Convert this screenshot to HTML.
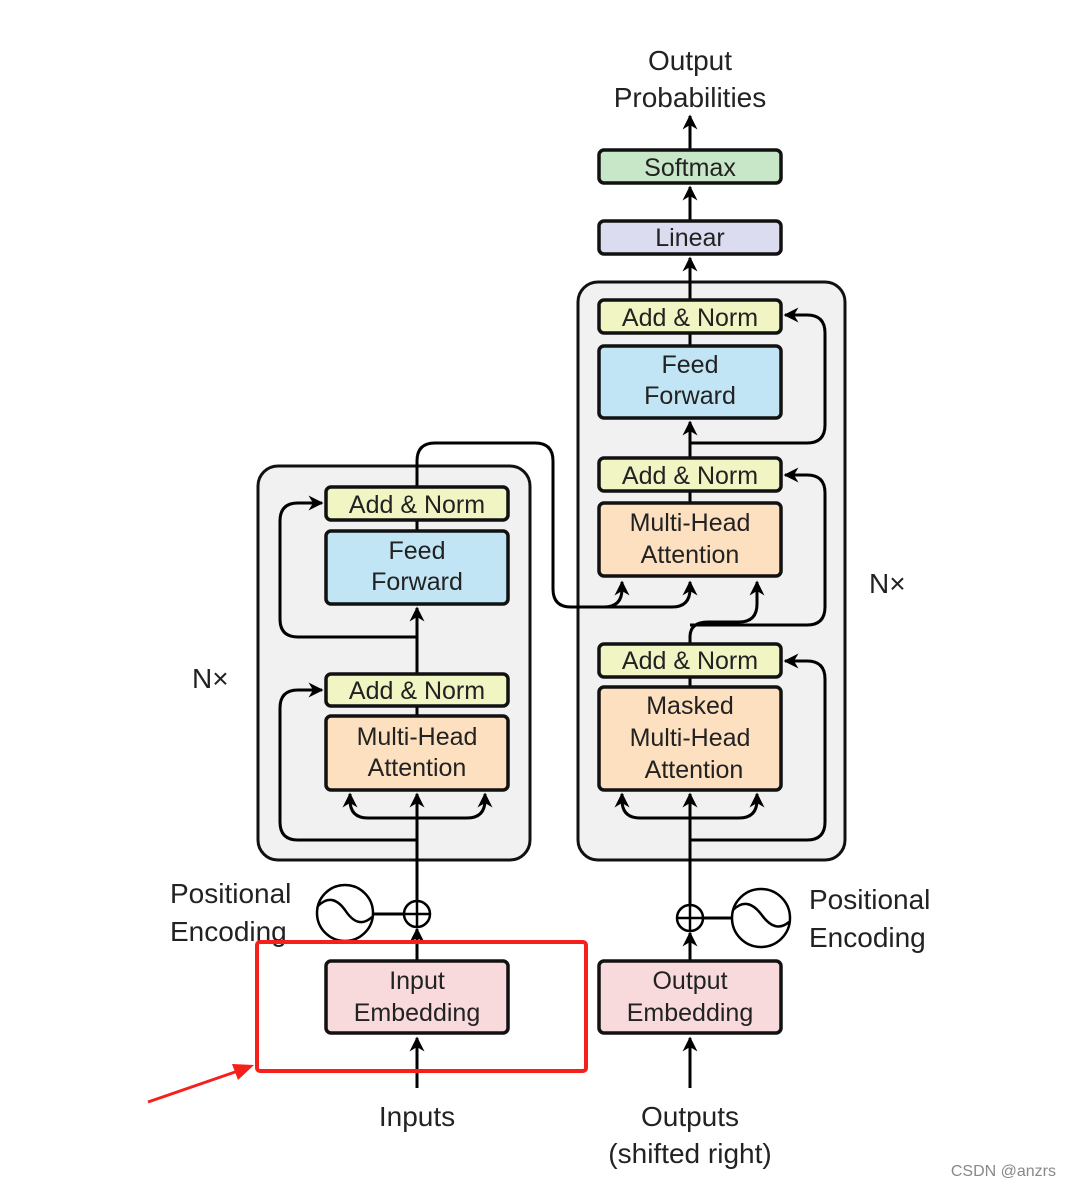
<!DOCTYPE html>
<html><head><meta charset="utf-8"><style>
html,body{margin:0;padding:0;background:#fff;}
svg{display:block;}
text{font-family:"Liberation Sans",sans-serif;fill:#222;}
</style></head><body>
<svg width="1072" height="1187" viewBox="0 0 1072 1187" xmlns="http://www.w3.org/2000/svg">
<defs>
<marker id="a" viewBox="0 0 10 10" refX="9" refY="5" markerWidth="5" markerHeight="5" orient="auto-start-reverse">
<path d="M0,0 L10,5 L0,10 L3,5 z" fill="#000"/>
</marker>
</defs>
<!-- outer boxes -->
<rect x="258" y="466" width="272" height="394" rx="20" fill="#f1f1f1" stroke="#111" stroke-width="3"/>
<rect x="578" y="282" width="267" height="578" rx="20" fill="#f1f1f1" stroke="#111" stroke-width="3"/>

<g fill="none" stroke="#000" stroke-width="3">
<!-- encoder main line -->
<line x1="417" y1="1088" x2="417" y2="1038" marker-end="url(#a)"/>
<line x1="417" y1="961" x2="417" y2="929" marker-end="url(#a)"/>
<line x1="417" y1="901" x2="417" y2="794" marker-end="url(#a)"/>
<path d="M417,818 L368,818 Q350,818 350,800 L350,794" marker-end="url(#a)"/>
<path d="M417,818 L467,818 Q485,818 485,800 L485,794" marker-end="url(#a)"/>
<path d="M417,840 L298,840 Q280,840 280,822 L280,708 Q280,690 298,690 L322,690" marker-end="url(#a)"/>
<line x1="417" y1="706" x2="417" y2="716"/>
<line x1="417" y1="674" x2="417" y2="608" marker-end="url(#a)"/>
<path d="M417,637 L298,637 Q280,637 280,619 L280,521 Q280,503 298,503 L322,503" marker-end="url(#a)"/>
<line x1="417" y1="520" x2="417" y2="531"/>
<!-- encoder to decoder -->
<path d="M417,487 L417,461 Q417,443 435,443 L535,443 Q553,443 553,461 L553,589 Q553,607 571,607 L604,607 Q622,607 622,589 L622,582" marker-end="url(#a)"/>
<path d="M604,607 L672,607 Q690,607 690,589 L690,582" marker-end="url(#a)"/>
<!-- decoder main -->
<line x1="690" y1="1088" x2="690" y2="1038" marker-end="url(#a)"/>
<line x1="690" y1="961" x2="690" y2="933" marker-end="url(#a)"/>
<line x1="690" y1="905" x2="690" y2="794" marker-end="url(#a)"/>
<path d="M690,818 L640,818 Q622,818 622,800 L622,794" marker-end="url(#a)"/>
<path d="M690,818 L739,818 Q757,818 757,800 L757,794" marker-end="url(#a)"/>
<path d="M690,840 L807,840 Q825,840 825,822 L825,679 Q825,661 807,661 L785,661" marker-end="url(#a)"/>
<line x1="690" y1="677" x2="690" y2="687"/>
<path d="M690,644 L690,637 Q690,622 708,622 L739,622 Q757,622 757,604 L757,582" marker-end="url(#a)"/>
<path d="M690,625 L807,625 Q825,625 825,607 L825,493 Q825,475 807,475 L785,475" marker-end="url(#a)"/>
<line x1="690" y1="491" x2="690" y2="503"/>
<line x1="690" y1="458" x2="690" y2="422" marker-end="url(#a)"/>
<path d="M690,443 L807,443 Q825,443 825,425 L825,333 Q825,315 807,315 L785,315" marker-end="url(#a)"/>
<line x1="690" y1="333" x2="690" y2="346"/>
<line x1="690" y1="300" x2="690" y2="258" marker-end="url(#a)"/>
<line x1="690" y1="221" x2="690" y2="187" marker-end="url(#a)"/>
<line x1="690" y1="150" x2="690" y2="116" marker-end="url(#a)"/>
<!-- pos enc -->
<line x1="373" y1="914" x2="404" y2="914"/>
<line x1="703" y1="918" x2="732" y2="918"/>
</g>

<g stroke="#111" stroke-width="3.5">
<rect x="326" y="487" width="182" height="33" rx="5" fill="#f1f4c3"/>
<rect x="326" y="531" width="182" height="73" rx="5" fill="#c1e5f4"/>
<rect x="326" y="674" width="182" height="32" rx="5" fill="#f1f4c3"/>
<rect x="326" y="716" width="182" height="74" rx="5" fill="#fde0c0"/>
<rect x="599" y="300" width="182" height="33" rx="5" fill="#f1f4c3"/>
<rect x="599" y="346" width="182" height="72" rx="5" fill="#c1e5f4"/>
<rect x="599" y="458" width="182" height="33" rx="5" fill="#f1f4c3"/>
<rect x="599" y="503" width="182" height="73" rx="5" fill="#fde0c0"/>
<rect x="599" y="644" width="182" height="33" rx="5" fill="#f1f4c3"/>
<rect x="599" y="687" width="182" height="103" rx="5" fill="#fde0c0"/>
<rect x="599" y="221" width="182" height="33" rx="5" fill="#dcdcf0"/>
<rect x="599" y="150" width="182" height="33" rx="5" fill="#c8e6c8"/>
<rect x="326" y="961" width="182" height="72" rx="5" fill="#f8d9dc"/>
<rect x="599" y="961" width="182" height="72" rx="5" fill="#f8d9dc"/>
</g>

<g fill="#fff" stroke="#000" stroke-width="2.5">
<circle cx="417" cy="914" r="13"/>
<circle cx="345" cy="913" r="28"/>
<circle cx="690" cy="918" r="13"/>
<circle cx="761" cy="918" r="29"/>
</g>
<g fill="none" stroke="#000" stroke-width="2.5">
<path d="M404,914 H430 M417,901 V927"/>
<path d="M677,918 H703 M690,905 V931"/>
<path d="M318,906 Q332,892 345,910 Q358,930 372,917"/>
<path d="M733,910 Q747,896 761,914 Q775,934 789,922"/>
</g>

<g font-size="25" text-anchor="middle">
<text x="417" y="513">Add &amp; Norm</text>
<text x="417" y="559">Feed</text>
<text x="417" y="590">Forward</text>
<text x="417" y="699">Add &amp; Norm</text>
<text x="417" y="745">Multi-Head</text>
<text x="417" y="776">Attention</text>
<text x="690" y="326">Add &amp; Norm</text>
<text x="690" y="373">Feed</text>
<text x="690" y="404">Forward</text>
<text x="690" y="484">Add &amp; Norm</text>
<text x="690" y="531">Multi-Head</text>
<text x="690" y="563">Attention</text>
<text x="690" y="669">Add &amp; Norm</text>
<text x="690" y="714">Masked</text>
<text x="690" y="746">Multi-Head</text>
<text x="694" y="778">Attention</text>
<text x="690" y="246">Linear</text>
<text x="690" y="176">Softmax</text>
<text x="417" y="989">Input</text>
<text x="417" y="1021">Embedding</text>
<text x="690" y="989">Output</text>
<text x="690" y="1021">Embedding</text>
</g>
<g font-size="28">
<text x="690" y="70" text-anchor="middle">Output</text>
<text x="690" y="107" text-anchor="middle">Probabilities</text>
<text x="417" y="1126" text-anchor="middle">Inputs</text>
<text x="690" y="1126" text-anchor="middle">Outputs</text>
<text x="690" y="1163" text-anchor="middle">(shifted right)</text>
<text x="170" y="903">Positional</text>
<text x="170" y="941">Encoding</text>
<text x="809" y="909">Positional</text>
<text x="809" y="947">Encoding</text>
<text x="192" y="688">N×</text>
<text x="869" y="593">N×</text>
</g>
<text x="1056" y="1176" font-size="16" text-anchor="end" fill="#888" style="fill:#888">CSDN @anzrs</text>

<rect x="257" y="942" width="329" height="129" rx="3" fill="none" stroke="#f5201b" stroke-width="4"/>
<line x1="148" y1="1102" x2="238" y2="1071" stroke="#f5201b" stroke-width="3"/>
<path d="M254,1065 L232,1064 L238,1080 z" fill="#f5201b"/>
</svg>
</body></html>
